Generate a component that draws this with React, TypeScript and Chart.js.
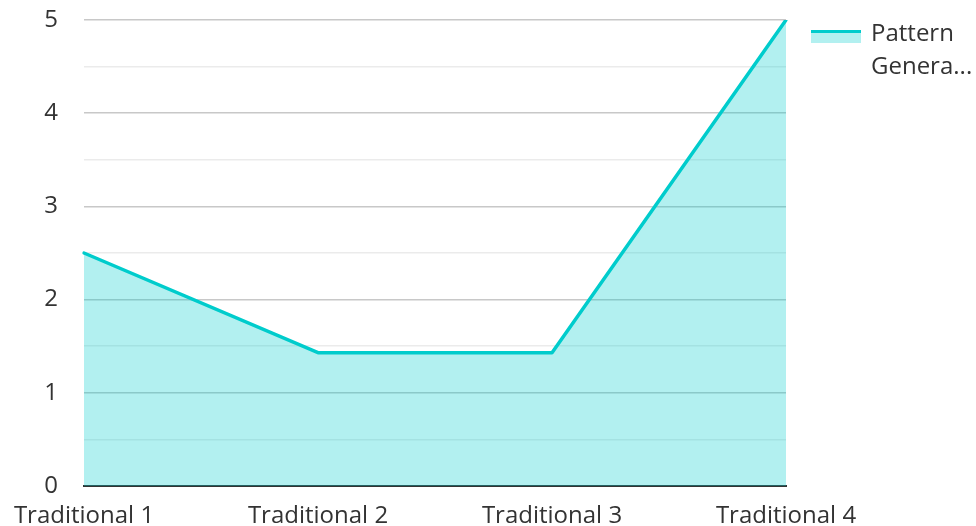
import React, { useEffect, useRef } from "react";
import { Chart, registerables } from "chart.js";

Chart.register(...registerables);

const categories = ["Traditional 1", "Traditional 2", "Traditional 3", "Traditional 4"];
const seriesName = "Pattern Generation";
const seriesValues = [2.5, 1.43, 1.43, 5];
const legendLines = ["Pattern", "Genera..."];

const LINE = "rgb(0, 204, 204)";
const FILL = "rgba(0, 204, 204, 0.3)";
const TEXT = "#333333";
const FONT = "'Open Sans', 'Noto Sans', sans-serif";

const legendPlugin = {
  id: "customLegend",
  afterDraw(chart: any) {
    const ctx = chart.ctx;
    const x0 = chart.chartArea.right + 25;
    const y0 = 30;
    ctx.save();
    ctx.fillStyle = FILL;
    ctx.fillRect(x0, y0, 50, 13);
    ctx.fillStyle = LINE;
    ctx.fillRect(x0, y0, 50, 3);
    ctx.fillStyle = TEXT;
    ctx.font = `24px ${FONT}`;
    ctx.textBaseline = "alphabetic";
    ctx.textAlign = "left";
    legendLines.forEach((t, i) => {
      ctx.fillText(t, x0 + 60, 41 + i * 33);
    });
    ctx.restore();
  },
};

export default function App() {
  const ref = useRef<HTMLCanvasElement | null>(null);
  useEffect(() => {
    if (!ref.current) return;
    const chart = new Chart(ref.current, {
      type: "line",
      data: {
        labels: categories,
        datasets: [
          {
            label: seriesName,
            data: seriesValues,
            borderColor: LINE,
            backgroundColor: FILL,
            borderWidth: 3.5,
            borderCapStyle: "round",
            borderJoinStyle: "round",
            fill: "origin",
            pointRadius: 0,
            tension: 0,
          },
        ],
      },
      options: {
        animation: false,
        responsive: true,
        maintainAspectRatio: false,
        layout: { padding: { top: 20, right: 190, left: 0, bottom: 0 } },
        plugins: { legend: { display: false }, tooltip: { enabled: false } },
        scales: {
          x: {
            offset: false,
            grid: { display: false, drawTicks: false },
            border: { display: true, color: "#333333", width: 2 },
            ticks: {
              color: TEXT,
              font: { family: FONT, size: 24 },
              padding: 16,
              maxRotation: 0,
              autoSkip: false,
            },
            afterFit: (s: any) => {
              s.height = 40;
              s.paddingLeft = 0;
              s.paddingRight = 0;
            },
          },
          y: {
            min: 0,
            max: 5,
            border: { display: false },
            grid: {
              drawTicks: false,
              color: (c: any) =>
                c.tick && Number.isInteger(c.tick.value) ? "rgb(200,200,200)" : "rgb(235,235,235)",
              lineWidth: 1.5,
            },
            ticks: {
              stepSize: 0.5,
              color: TEXT,
              font: { family: FONT, size: 24 },
              padding: 26,
              callback: (v: any) => (Number.isInteger(v) ? String(v) : ""),
            },
            afterFit: (s: any) => {
              s.width = 84;
              s.paddingTop = 0;
              s.paddingBottom = 0;
            },
          },
        },
      },
      plugins: [legendPlugin],
    });
    return () => chart.destroy();
  }, []);
  return (
    <div style={{ position: "fixed", left: 0, top: 0, width: 976, height: 526 }}>
      <canvas ref={ref} />
    </div>
  );
}
